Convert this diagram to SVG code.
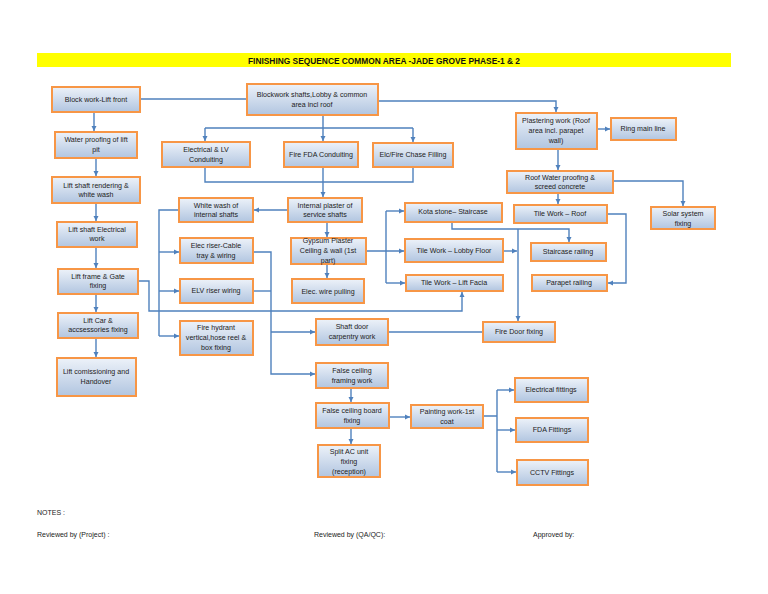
<svg xmlns="http://www.w3.org/2000/svg" width="768" height="594" viewBox="0 0 768 594">
<defs>
<linearGradient id="g" x1="0" y1="0" x2="0" y2="1">
<stop offset="0" stop-color="#EDF2F9"/>
<stop offset="1" stop-color="#B1C5E0"/>
</linearGradient>
<marker id="a" markerWidth="6" markerHeight="6" refX="5" refY="3" orient="auto" markerUnits="userSpaceOnUse">
<path d="M0,0.5 L5,3 L0,5.5 Z" fill="#4F81BD"/>
</marker>
<style>
.b{fill:url(#g);stroke:#F79646;stroke-width:2}
.t{font-family:"Liberation Sans",Arial,sans-serif;font-size:7.1px;fill:#222;text-anchor:middle}
.c{fill:none;stroke:#4F81BD;stroke-width:1.4}
.ar{marker-end:url(#a)}
.f{font-family:"Liberation Sans",Arial,sans-serif;font-size:7px;fill:#222}
</style>
</defs>
<rect width="768" height="594" fill="#fff"/>
<rect x="37" y="53" width="694" height="14" fill="#FFFF00"/>
<text x="384" y="63.5" text-anchor="middle" font-family="Liberation Sans,Arial,sans-serif" font-weight="bold" font-size="8.6" textLength="272" lengthAdjust="spacingAndGlyphs" fill="#111">FINISHING SEQUENCE COMMON AREA -JADE GROVE PHASE-1 &amp; 2</text>

<g id="connectors">
<path class="c" d="M140,99 H247"/>
<path class="c ar" d="M378,101 H556 V112"/>
<path class="c" d="M323,115 V128 M205,128 H413"/>
<path class="c ar" d="M205,128 V141"/>
<path class="c ar" d="M323,128 V141"/>
<path class="c ar" d="M413,128 V142"/>
<path class="c ar" d="M94,112 V131"/>
<path class="c ar" d="M96,158 V176"/>
<path class="c ar" d="M96,203 V221"/>
<path class="c ar" d="M96,247 V268"/>
<path class="c ar" d="M96,294 V312"/>
<path class="c ar" d="M96,338 V357"/>
<path class="c" d="M205,167 V182 H413 V167"/>
<path class="c ar" d="M323,167 V197"/>
<path class="c ar" d="M288,210 H254"/>
<path class="c ar" d="M327,222 V237"/>
<path class="c ar" d="M327,264 V278"/>
<path class="c ar" d="M366,251 H404"/>
<path class="c" d="M386,211 V283"/>
<path class="c ar" d="M386,211 H404"/>
<path class="c ar" d="M386,283 H405"/>
<path class="c" d="M179,210 H159 V336"/>
<path class="c ar" d="M159,252 H179"/>
<path class="c ar" d="M159,291 H179"/>
<path class="c ar" d="M159,336 H179"/>
<path class="c ar" d="M138,281 H149 V311 H462 V292"/>
<path class="c ar" d="M253,252 H271 V374 H315"/>
<path class="c" d="M253,291 H271"/>
<path class="c ar" d="M271,332 H315"/>
<path class="c" d="M388,332 H483"/>
<path class="c ar" d="M452,222 V229 H569 V242"/>
<path class="c ar" d="M518,229 V321"/>
<path class="c ar" d="M503,251 H517"/>
<path class="c ar" d="M607,214 H626 V283 H608"/>
<path class="c ar" d="M558,149 V170"/>
<path class="c ar" d="M597,129 H610"/>
<path class="c ar" d="M558,193 V204"/>
<path class="c ar" d="M613,181 H683 V206"/>
<path class="c ar" d="M351,388 V402"/>
<path class="c ar" d="M351,428 V444"/>
<path class="c ar" d="M389,417 H410"/>
<path class="c" d="M483,416 H497 M497,390 V472"/>
<path class="c ar" d="M497,390 H514"/>
<path class="c ar" d="M497,430 H515"/>
<path class="c ar" d="M497,472 H516"/>
</g>

<g id="n1"><rect class="b" x="52" y="87" width="88" height="25"/><text class="t" x="96" y="102">Block work-Lift front</text></g>
<g id="n2"><rect class="b" x="247" y="84" width="131" height="31"/><text class="t" x="312" y="97">Blockwork shafts,Lobby  &amp; common</text><text class="t" x="312" y="107">area incl roof</text></g>
<g id="n3"><rect class="b" x="55" y="132" width="82" height="26"/><text class="t" x="96" y="142">Water proofing of lift</text><text class="t" x="96" y="152">pit</text></g>
<g id="n4"><rect class="b" x="162" y="142" width="88" height="25"/><text class="t" x="206" y="152">Electrical &amp; LV</text><text class="t" x="206" y="162">Conduiting</text></g>
<g id="n5"><rect class="b" x="284" y="142" width="74" height="25"/><text class="t" x="321" y="157">Fire FDA Conduiting</text></g>
<g id="n6"><rect class="b" x="373" y="143" width="80" height="24"/><text class="t" x="413" y="157">Elc/Fire Chase Filling</text></g>
<g id="n7"><rect class="b" x="516" y="113" width="81" height="36"/><text class="t" x="556" y="123">Plastering work (Roof</text><text class="t" x="556" y="133">area incl. parapet</text><text class="t" x="556" y="143">wall)</text></g>
<g id="n8"><rect class="b" x="611" y="118" width="65" height="22"/><text class="t" x="643" y="131">Ring main line</text></g>
<g id="n9"><rect class="b" x="507" y="171" width="106" height="22"/><text class="t" x="560" y="180">Roof Water proofing &amp;</text><text class="t" x="560" y="189">screed concrete</text></g>
<g id="n10"><rect class="b" x="514" y="205" width="93" height="18"/><text class="t" x="560" y="216">Tile Work – Roof</text></g>
<g id="n11"><rect class="b" x="651" y="207" width="64" height="22"/><text class="t" x="683" y="216">Solar system</text><text class="t" x="683" y="226">fixing</text></g>
<g id="n12"><rect class="b" x="52" y="177" width="88" height="26"/><text class="t" x="96" y="188">Lift shaft rendering &amp;</text><text class="t" x="96" y="197">white wash</text></g>
<g id="n13"><rect class="b" x="57" y="222" width="80" height="25"/><text class="t" x="97" y="232">Lift shaft Electrical</text><text class="t" x="97" y="241">work</text></g>
<g id="n14"><rect class="b" x="58" y="269" width="80" height="25"/><text class="t" x="98" y="279">Lift frame &amp; Gate</text><text class="t" x="98" y="288">fixing</text></g>
<g id="n15"><rect class="b" x="58" y="313" width="80" height="25"/><text class="t" x="98" y="323">Lift Car &amp;</text><text class="t" x="98" y="332">accsessories fixing</text></g>
<g id="n16"><rect class="b" x="57" y="358" width="79" height="38"/><text class="t" x="96" y="374">Lift comissioning and</text><text class="t" x="96" y="384">Handover</text></g>
<g id="n17"><rect class="b" x="179" y="198" width="74" height="24"/><text class="t" x="216" y="208">White wash of</text><text class="t" x="216" y="217">internal shafts</text></g>
<g id="n18"><rect class="b" x="288" y="198" width="74" height="24"/><text class="t" x="325" y="208">Internal plaster of</text><text class="t" x="325" y="217">service shafts</text></g>
<g id="n19"><rect class="b" x="180" y="238" width="73" height="25"/><text class="t" x="216" y="248">Elec riser-Cable</text><text class="t" x="216" y="258">tray &amp; wiring</text></g>
<g id="n20"><rect class="b" x="291" y="238" width="75" height="26"/><text class="t" x="328" y="243">Gypsum Plaster</text><text class="t" x="328" y="253">Ceiling &amp; wall  (1st</text><text class="t" x="328" y="263">part)</text></g>
<g id="n21"><rect class="b" x="405" y="203" width="97" height="19"/><text class="t" x="453" y="214">Kota stone– Staircase</text></g>
<g id="n22"><rect class="b" x="405" y="239" width="98" height="23"/><text class="t" x="454" y="253">Tile Work – Lobby Floor</text></g>
<g id="n23"><rect class="b" x="531" y="243" width="75" height="18"/><text class="t" x="568" y="254">Staircase railing</text></g>
<g id="n24"><rect class="b" x="180" y="279" width="73" height="24"/><text class="t" x="216" y="293">ELV riser wiring</text></g>
<g id="n25"><rect class="b" x="292" y="279" width="72" height="24"/><text class="t" x="328" y="294">Elec. wire pulling</text></g>
<g id="n26"><rect class="b" x="406" y="275" width="97" height="16"/><text class="t" x="454" y="285">Tile Work – Lift Facia</text></g>
<g id="n27"><rect class="b" x="532" y="275" width="75" height="16"/><text class="t" x="569" y="285">Parapet railing</text></g>
<g id="n28"><rect class="b" x="180" y="321" width="73" height="34"/><text class="t" x="216" y="330">Fire hydrant</text><text class="t" x="216" y="340">vertical,hose reel &amp;</text><text class="t" x="216" y="350">box fixing</text></g>
<g id="n29"><rect class="b" x="316" y="319" width="72" height="26"/><text class="t" x="352" y="329">Shaft door</text><text class="t" x="352" y="339">carpentry work</text></g>
<g id="n30"><rect class="b" x="483" y="322" width="72" height="20"/><text class="t" x="519" y="334">Fire Door fixing</text></g>
<g id="n31"><rect class="b" x="316" y="363" width="72" height="25"/><text class="t" x="352" y="373">False ceiling</text><text class="t" x="352" y="383">framing work</text></g>
<g id="n32"><rect class="b" x="316" y="403" width="73" height="25"/><text class="t" x="352" y="413">False ceiling board</text><text class="t" x="352" y="423">fixing</text></g>
<g id="n33"><rect class="b" x="411" y="405" width="72" height="23"/><text class="t" x="447" y="414">Painting work-1st</text><text class="t" x="447" y="424">coat</text></g>
<g id="n34"><rect class="b" x="318" y="445" width="62" height="32"/><text class="t" x="349" y="454">Split AC unit</text><text class="t" x="349" y="464">fixing</text><text class="t" x="349" y="474">(reception)</text></g>
<g id="n35"><rect class="b" x="515" y="378" width="73" height="24"/><text class="t" x="551" y="392">Electrical fittings</text></g>
<g id="n36"><rect class="b" x="516" y="418" width="72" height="24"/><text class="t" x="552" y="432">FDA Fittings</text></g>
<g id="n37"><rect class="b" x="517" y="460" width="71" height="25"/><text class="t" x="552" y="475">CCTV Fittings</text></g>

<text class="f" x="37" y="515">NOTES :</text>
<text class="f" x="37" y="537">Reviewed by (Project) :</text>
<text class="f" x="314" y="537">Reviewed by (QA/QC):</text>
<text class="f" x="533" y="537">Approved by:</text>
</svg>
